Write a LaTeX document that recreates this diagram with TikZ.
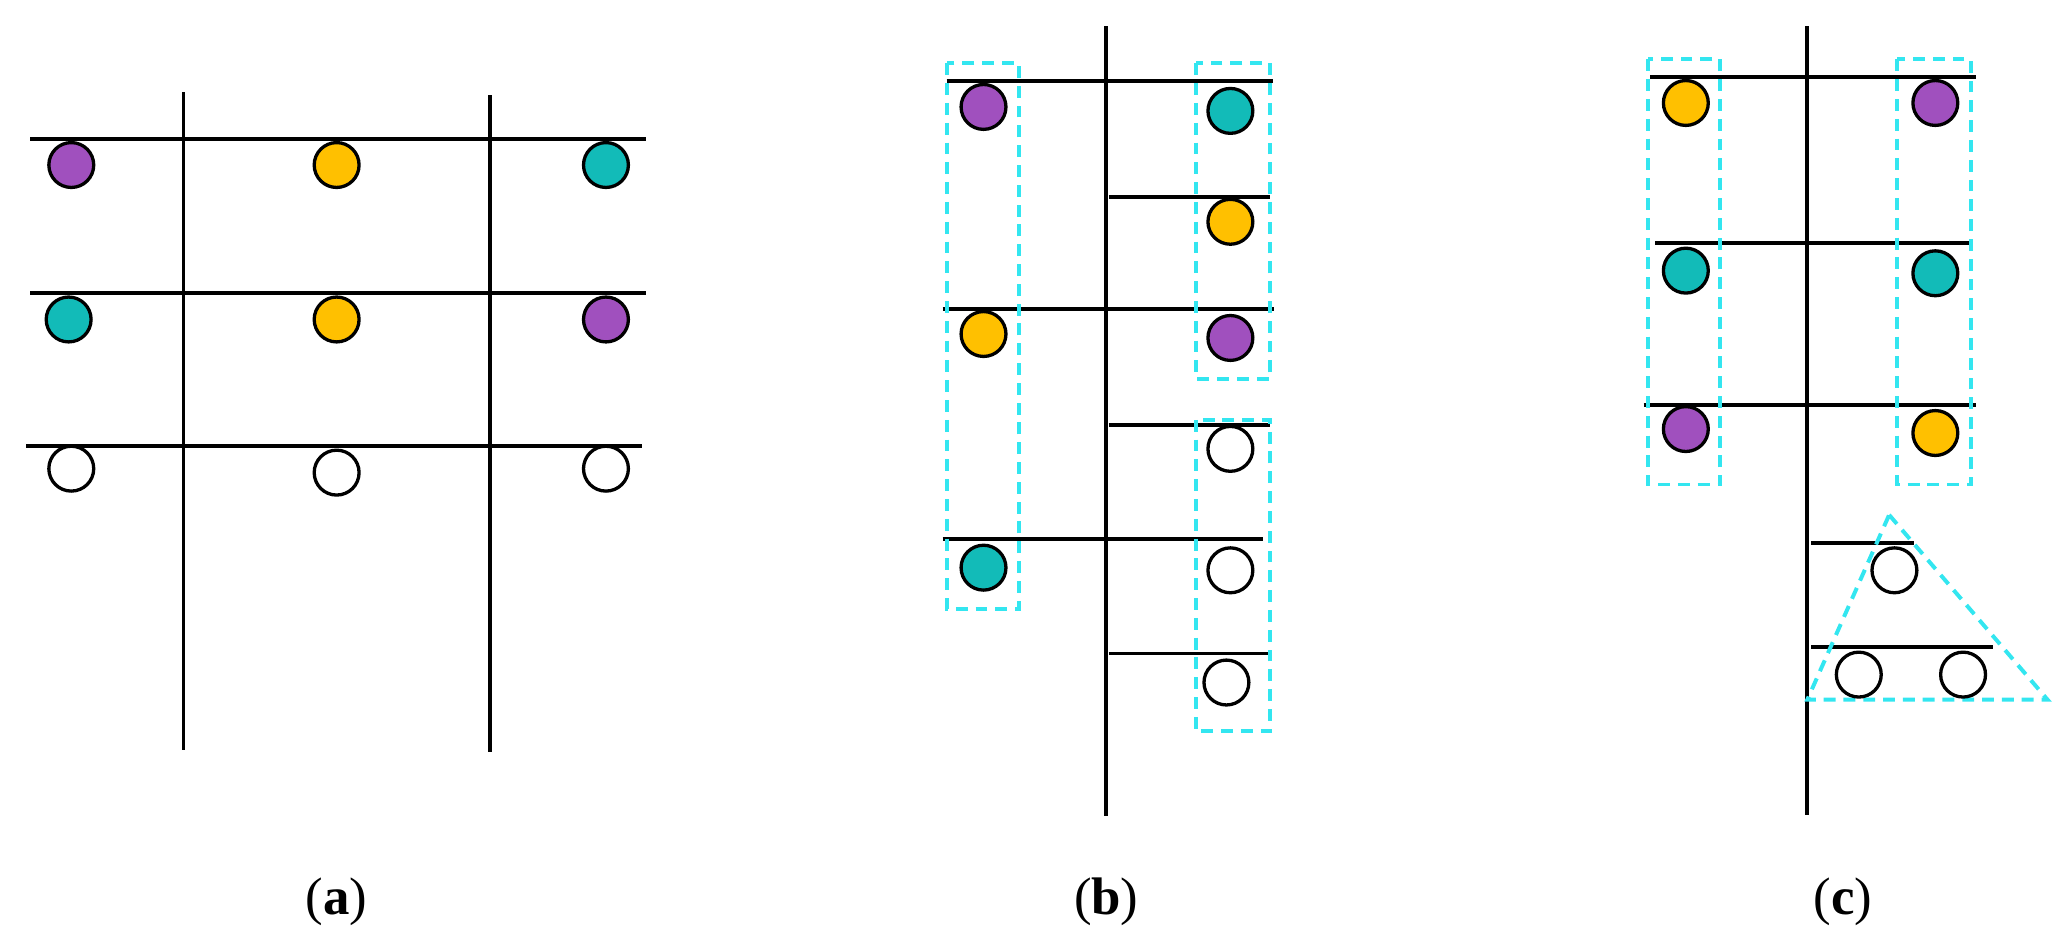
\documentclass[tikz,border=0pt]{standalone}
\usepackage{fontspec}
\setmainfont{Liberation Serif}
\begin{document}
\begin{tikzpicture}[x=1pt,y=-1pt,
  ln/.style={line width=3pt},
  b/.style={circle,draw=black,line width=2.5pt,minimum size=34pt,inner sep=0pt},
  P/.style={b,fill=purp},Y/.style={b,fill=yel},T/.style={b,fill=teal2},W/.style={b,fill=white},
  box/.style={draw=cyan2,line width=3pt,dash pattern=on 9pt off 6pt},
  lab/.style={font=\fontsize{40}{44}\selectfont}]
\definecolor{purp}{HTML}{A050BE}\definecolor{yel}{HTML}{FFC000}
\definecolor{teal2}{HTML}{12BBB8}\definecolor{cyan2}{HTML}{33E6F0}
\useasboundingbox (0,0) rectangle (1568,720);
% (a)
\draw[ln] (139,70)--(139,568); \draw[ln] (371,72)--(371,570);
\draw[ln] (23,105)--(489,105); \draw[ln] (23,222)--(489,222); \draw[ln] (20,338)--(486,338);
\node[P] (a1) at (54,125){}; \node[Y] (a2) at (255,125){}; \node[T] (a3) at (459,125){};
\node[T] (a4) at (52,242){}; \node[Y] (a5) at (255,242){}; \node[P] (a6) at (459,242){};
\node[W] (a7) at (54,355){}; \node[W] (a8) at (255,358){}; \node[W] (a9) at (459,355){};
\node[lab] (la) at (255,683){(\textbf{a})};
% (b)
\draw[ln] (838,20)--(838,618);
\draw[ln] (717,61)--(964,61); \draw[ln] (840,149)--(962,149); \draw[ln] (714,234)--(965,234);
\draw[ln] (840,322)--(962,322); \draw[ln] (714,408)--(957,408); \draw[ln] (840,495)--(962,495);
\draw[box] (717,48) rectangle (772,461);
\draw[box] (906,48) rectangle (962,287);
\draw[box] (906,318) rectangle (962,554);
\node[P] (b1) at (745,81){}; \node[Y] (b2) at (745,253){}; \node[T] (b3) at (745,430){};
\node[T] (b4) at (932,84){}; \node[Y] (b5) at (932,168){}; \node[P] (b6) at (932,256){};
\node[W] (b7) at (932,340){}; \node[W] (b8) at (932,432){}; \node[W] (b9) at (929,517){};
\node[lab] (lb) at (838,683){(\textbf{b})};
% (c)
\draw[ln] (1369,20)--(1369,617);
\draw[ln] (1250,58)--(1497,58); \draw[ln] (1254,184)--(1494,184); \draw[ln] (1245,307)--(1497,307);
\draw[ln] (1372,411)--(1450,411); \draw[ln] (1372,490)--(1510,490);
\draw[box] (1248,45) rectangle (1303,367);
\draw[box] (1437,45) rectangle (1493,367);
\draw[box] (1431,390)--(1551,530)--(1369,530)--cycle;
\node[Y] (c1) at (1277,78){}; \node[T] (c2) at (1277,205){}; \node[P] (c3) at (1277,325){};
\node[P] (c4) at (1466,78){}; \node[T] (c5) at (1466,207){}; \node[Y] (c6) at (1466,328){};
\node[W] (c7) at (1435,432){}; \node[W] (c8) at (1408,511){}; \node[W] (c9) at (1487,511){};
\node[lab] (lc) at (1396,683){(\textbf{c})};
\end{tikzpicture}
\end{document}
